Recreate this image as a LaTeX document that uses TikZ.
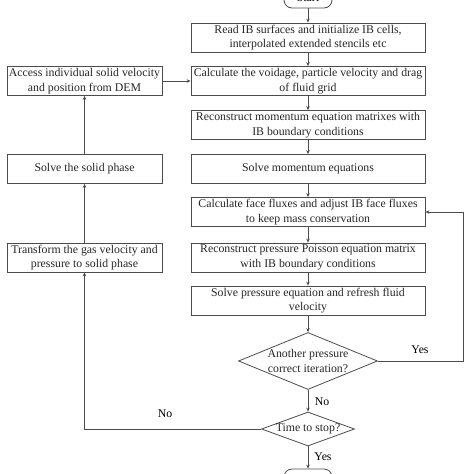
\documentclass[tikz,border=0pt]{standalone}
\usepackage{fontspec}
\setmainfont{Liberation Serif}
\usetikzlibrary{positioning,shapes.geometric,arrows.meta}
\tikzstyle{proc}=[rectangle,draw=black!70,thick,minimum width=234pt,minimum height=29pt,align=center,inner sep=1pt,text=black!85]
\tikzstyle{side}=[proc,minimum width=155pt]
\tikzstyle{term}=[rectangle,rounded corners=8pt,draw=black!70,thick,minimum width=48pt,minimum height=20pt]
\tikzstyle{cond}=[diamond,draw=black!70,thick,align=center,text=black!85]

\begin{document}
\begin{tikzpicture}[
    x=1pt,y=-1pt,
    font=\fontsize{11.8}{14.5}\selectfont,
    line/.style={draw=black!70,thick},
    flow/.style={line,-{Stealth[length=4pt,width=3.5pt]}}
    ]
    \useasboundingbox (0,0) rectangle (474,474);
    \clip (0,0) rectangle (474,474);

    % main column
    \node[term] (start) at (308,-2) {Start};
    \node[proc] (read) at (308,37.5) {Read IB surfaces and initialize IB cells,\\interpolated extended stencils etc};
    \node[proc] (void) at (308,81) {Calculate the voidage, particle velocity and drag\\of fluid grid};
    \node[proc] (mrec) at (308,125) {Reconstruct momentum equation matrixes with\\IB boundary conditions};
    \node[proc] (msol) at (308,169) {Solve momentum equations};
    \node[proc] (flux) at (308,212) {Calculate face fluxes and adjust IB face fluxes\\to keep mass conservation};
    \node[proc] (prec) at (308,257.5) {Reconstruct pressure Poisson equation matrix\\with IB boundary conditions};
    \node[proc] (psol) at (308,300.5) {Solve pressure equation and refresh fluid\\velocity};
    \node[cond,aspect=2.44,inner sep=-6pt,minimum width=139pt,minimum height=57pt] (iter) at (308,361) {Another pressure\\correct iteration?};
    \node[cond,aspect=2.7,inner sep=-3pt,minimum width=93pt,minimum height=34pt] (stop) at (308,429) {Time to stop?};
    \node[term] (end) at (308,479) {};

    % solid phase column
    \node[side] (acc) at (84.5,81) {Access individual solid velocity\\and position from DEM};
    \node[side] (solid) at (84.5,169) {Solve the solid phase};
    \node[side] (trans) at (84.5,257.5) {Transform the gas velocity and\\pressure to solid phase};

    % connectors
    \foreach \a/\b in {start/read,read/void,void/mrec,mrec/msol,msol/flux,flux/prec,prec/psol,psol/iter,iter/stop,stop/end} {
      \draw[flow] (\a) -- (\b);
    }
    \draw[flow] (trans) -- (solid);
    \draw[flow] (solid) -- (acc);
    \draw[flow] (acc) -- (void);

    % loops
    \coordinate (loop) at (463,361);
    \draw[flow] (iter.east) -- (loop) |- (flux.east);
    \draw[flow] (stop.west) -| (trans.south);

    % labels
    \node at (420,350) {Yes};
    \node at (322,402) {No};
    \node at (165,414) {No};
    \node at (323,457) {Yes};

  \end{tikzpicture}
\end{document}
